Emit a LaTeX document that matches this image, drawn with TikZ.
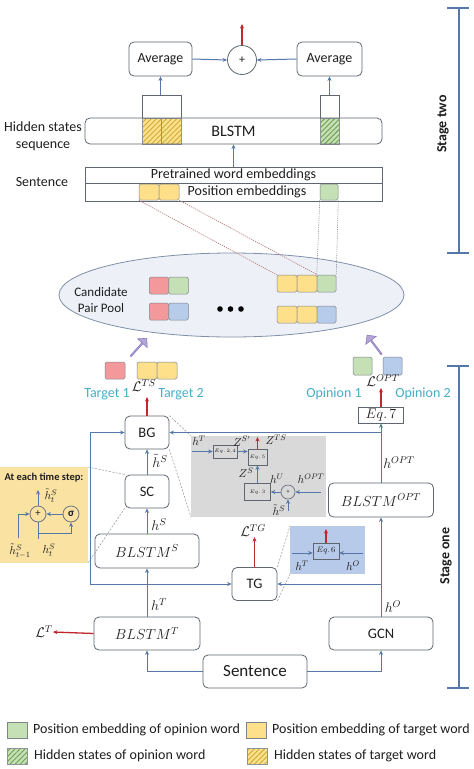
\RequirePackage{fix-cm}
\documentclass[tikz,border=0pt]{standalone}
\usepackage{fontspec}
\setmainfont{Carlito}
\usetikzlibrary{arrows.meta,shapes.geometric,shapes.arrows,patterns.meta,calc}
\definecolor{boxc}{HTML}{5F6670}
\definecolor{arrc}{HTML}{5578A8}
\definecolor{redc}{HTML}{C0282D}
\definecolor{cyanc}{HTML}{45AFC4}
\definecolor{yelc}{HTML}{FFE08A}
\definecolor{grnc}{HTML}{C5E0B4}
\definecolor{pinkc}{HTML}{F4999B}
\definecolor{bluec}{HTML}{B7CCEA}
\definecolor{purc}{HTML}{B4A7D6}
\definecolor{purd}{HTML}{8E7CC3}
\definecolor{poolc}{HTML}{EDF1F7}
\definecolor{poold}{HTML}{8090A8}
\definecolor{insety}{HTML}{FAE2A3}
\definecolor{insetg}{HTML}{D9D9D9}
\definecolor{insetb}{HTML}{B8CAE9}
\definecolor{hatchy}{HTML}{C8AE3C}
\definecolor{hatchg}{HTML}{6E9E52}
\definecolor{txt}{HTML}{1E1E1E}
\definecolor{dotr}{HTML}{B07070}
\begin{document}
\begin{tikzpicture}[x=1pt,y=-1pt,
  every node/.style={inner sep=0pt, text=txt},
  rbox/.style={draw=boxc, line width=0.8pt, rounded corners=5pt, fill=white},
  sbox/.style={draw=boxc, line width=0.7pt},
  conn/.style={draw=arrc, line width=1pt, -{Stealth[length=4.5pt,width=4pt]}},
  plain/.style={draw=arrc, line width=1pt},
  redarr/.style={draw=redc, line width=1.3pt, -{Stealth[length=4.5pt,width=4pt]}},
  cell/.style={draw=boxc!80, line width=0.5pt, rounded corners=1.5pt},
  f10/.style={font=\fontsize{10.5}{12}\selectfont},
  f12/.style={font=\fontsize{12}{14}\selectfont},
  f13/.style={font=\fontsize{13}{15.5}\selectfont},
  f14/.style={font=\fontsize{14}{17}\selectfont},
  f15/.style={font=\fontsize{14.5}{17}\selectfont},
  f16/.style={font=\fontsize{16}{18}\selectfont},
  f17/.style={font=\fontsize{17}{20}\selectfont},
  mbx/.style={font=\fontsize{14.5}{17}\selectfont},
  mth/.style={font=\fontsize{14}{16}\selectfont},
  msm/.style={font=\fontsize{11.5}{13}\selectfont},
  dashl/.style={draw=gray!75, line width=0.6pt, dash pattern=on 2pt off 1.5pt},
  reddot/.style={draw=dotr, line width=0.6pt, dash pattern=on 1.2pt off 1pt},
  graydot/.style={draw=gray!80, line width=0.6pt, dash pattern=on 1.2pt off 1pt},
  stageln/.style={draw=arrc, line width=1.1pt},
  cyl/.style={text=cyanc, font=\fontsize{14}{17}\selectfont},
  purarrow/.style={single arrow, draw=purd, fill=purc, line width=0.6pt, minimum height=24pt, minimum width=13pt, single arrow head extend=2.5pt, inner sep=0pt}
]
\fill[white] (0,0) rectangle (474,769);
\useasboundingbox (0,0) rectangle (474,769);

% ================= Stage two =================
\node[rbox, minimum width=63pt, minimum height=34pt, f14] (avgL) at (160.5,59) {Average};
\node[rbox, minimum width=65pt, minimum height=34pt, f14] (avgR) at (329.5,59) {Average};
\node[circle, draw=boxc, line width=0.8pt, minimum size=29pt, fill=white, f12] (plusT) at (242,60) {+};
\coordinate (outT) at (242,24);
\draw[redarr] (plusT.north) -- (outT);
\draw[conn] (avgL.east) -- (plusT.west);
\draw[conn] (avgR.west) -- (plusT.east);

% BLSTM bar with hatched cells
\fill[white, rounded corners=5pt] (85,118) rectangle (382,144);
\fill[yelc] (142,118) rectangle (181,144);
\fill[pattern={Lines[angle=45,distance=3.6pt,line width=0.9pt]}, pattern color=hatchy] (142,118) rectangle (181,144);
\fill[grnc] (320,118) rectangle (339,144);
\fill[pattern={Lines[angle=45,distance=3.6pt,line width=0.9pt]}, pattern color=hatchg] (320,118) rectangle (339,144);
\draw[boxc!70, line width=0.5pt] (142,118) rectangle (161.5,144) (161.5,118) rectangle (181,144) (320,118) rectangle (339,144);
\node[draw=boxc, line width=0.8pt, rounded corners=5pt, minimum width=297pt, minimum height=26pt, f16] (blstm) at (233.5,131) {BLSTM};

% brackets above the hidden states
\draw[boxc, line width=0.8pt] (142,118) -- (142,95) -- (181,95) -- (181,118);
\draw[boxc, line width=0.8pt] (320,118) -- (320,95) -- (339,95) -- (339,118);
\coordinate (brL) at (160.5,95);
\coordinate (brR) at (329.5,95);
\draw[conn] (brL) -- (avgL.south);
\draw[conn] (brR) -- (avgR.south);

\node[align=center, font=\fontsize{14}{17}\selectfont] (hss) at (43,136.5) {Hidden states\\sequence};
\node[f14] (sentlbl) at (42,182) {Sentence};

% sentence embeddings
\node[sbox, fill=white, minimum width=297pt, minimum height=16pt, f14] (pre) at (233.5,175) {Pretrained word embeddings};
\node[sbox, fill=white, minimum width=297pt, minimum height=18pt] (pos) at (233.5,192) {};
\node[cell, fill=yelc, minimum width=20pt, minimum height=16pt] (pc1) at (149,192) {};
\node[cell, fill=yelc, minimum width=20pt, minimum height=16pt] (pc2) at (169,192) {};
\node[cell, fill=grnc, minimum width=18pt, minimum height=16pt] (pg) at (329,192) {};
\node[f14] (postxt) at (247,192) {Position embeddings};
\draw[conn] (pre.north) -- (pre.north |- blstm.south);

% candidate pool
\node[ellipse, draw=poold, fill=poolc, line width=0.8pt, minimum width=345pt, minimum height=84pt] (pool) at (231.5,295) {};
\node[f13, align=center] (pooltxt) at (101,300) {Candidate\\Pair Pool};
\node[cell, fill=pinkc, minimum width=19.5pt, minimum height=17pt] (a1) at (159,285.5) {};
\node[cell, fill=grnc, minimum width=19.5pt, minimum height=17pt] (a2) at (178.5,285.5) {};
\node[cell, fill=pinkc, minimum width=19.5pt, minimum height=17pt] (b1) at (159,311.5) {};
\node[cell, fill=bluec, minimum width=19.5pt, minimum height=17pt] (b2) at (178.5,311.5) {};
\node[cell, fill=yelc, minimum width=20pt, minimum height=17pt] (q1) at (287,283.5) {};
\node[cell, fill=yelc, minimum width=20pt, minimum height=17pt] (q2) at (307,283.5) {};
\node[cell, fill=grnc, minimum width=19pt, minimum height=17pt] (q3) at (326.5,283.5) {};
\node[cell, fill=yelc, minimum width=20pt, minimum height=17pt] (r1) at (287,314.5) {};
\node[cell, fill=yelc, minimum width=20pt, minimum height=17pt] (r2) at (307,314.5) {};
\node[cell, fill=bluec, minimum width=19pt, minimum height=17pt] (r3) at (326.5,314.5) {};
\fill[black] (220,309) circle (2.8) (230.5,309) circle (2.8) (241,309) circle (2.8);
\draw[reddot] (pc1.south west) -- (q1.north west);
\draw[reddot] (pc2.south east) -- (q2.north east);
\draw[graydot] (pg.south west) -- (q3.north west);
\draw[graydot] (pg.south east) -- (q3.north east);

% extracted targets / opinions
\node[cell, fill=pinkc, minimum width=20pt, minimum height=17pt] (t1) at (115,370.5) {};
\node[cell, fill=yelc, minimum width=20pt, minimum height=17pt] (t2a) at (147,370.5) {};
\node[cell, fill=yelc, minimum width=20pt, minimum height=17pt] (t2b) at (167,370.5) {};
\node[cell, fill=grnc, minimum width=19pt, minimum height=18pt] (o1) at (362.5,366) {};
\node[cell, fill=bluec, minimum width=19pt, minimum height=18pt] (o2) at (392.5,366) {};
\node[purarrow, rotate=48] (parL) at (138.5,347.5) {};
\node[purarrow, rotate=127] (parR) at (374.5,345) {};
\node[cyl] (tg1) at (107,394) {Target 1};
\node[cyl] (tg2) at (181,394) {Target 2};
\node[cyl] (op1) at (334,394) {Opinion 1};
\node[cyl] (op2) at (423,394) {Opinion 2};
\node[mth] (LTS) at (144,386) {$\mathcal{L}^{TS}$};
\node[mth] (LOPT) at (383,381) {$\mathcal{L}^{OPT}$};

% stage brackets
\draw[stageln] (447,8) -- (469,8) (459,8) -- (459,253) (447,253) -- (469,253);
\node[rotate=90, font=\bfseries\fontsize{14}{17}\selectfont] (st2) at (443,124) {Stage two};
\draw[stageln] (447,366) -- (469,366) (459,366) -- (459,688) (447,688) -- (469,688);
\node[rotate=90, font=\bfseries\fontsize{14}{17}\selectfont] (st1) at (446,556) {Stage one};

% ================= Stage one =================
% inset backgrounds
\fill[insety] (0,467) rectangle (88,563);
\coordinate (ybNE) at (88,467);
\coordinate (ybSE) at (88,563);
\fill[insetg] (191,436) rectangle (326,517);
\coordinate (gbNW) at (191,436);
\coordinate (gbSW) at (191,517);
\fill[insetb] (290,526) rectangle (365,574);
\coordinate (bbNW) at (290,526);
\coordinate (bbSW) at (290,574);

\node[rbox, minimum width=44pt, minimum height=33pt, f15] (BG) at (147,432.5) {BG};
\node[rbox, minimum width=44pt, minimum height=33pt, f15] (SC) at (147,491.5) {SC};
\node[rbox, minimum width=104pt, minimum height=34pt, mbx] (BS) at (147,551) {$BLSTM^{S}$};
\node[rbox, minimum width=106pt, minimum height=33pt, mbx] (BT) at (147,633.5) {$BLSTM^{T}$};
\node[rbox, minimum width=104pt, minimum height=33pt, f15] (GCN) at (381,633.5) {GCN};
\node[rbox, minimum width=104pt, minimum height=33pt, f17] (SEN) at (255,671.5) {Sentence};
\node[rbox, minimum width=45pt, minimum height=33pt, f15] (TG) at (254.5,584) {TG};
\node[rbox, minimum width=105pt, minimum height=34pt, mbx] (BO) at (381,500) {$BLSTM^{OPT}$};
\node[sbox, fill=white, minimum width=45pt, minimum height=16pt, mth] (EQ7) at (381,415) {$Eq.\,7$};

\draw[dashl] (SC.north west) -- (ybNE);
\draw[dashl] (SC.south west) -- (ybSE);
\draw[dashl] (BG.north east) -- (gbNW);
\draw[dashl] (BG.south east) -- (gbSW);
\draw[dashl] (TG.north east) -- (bbNW);
\draw[dashl] (TG.south east) -- (bbSW);

\draw[conn] (SEN.west) -| (BT.south);
\draw[conn] (SEN.east) -| (GCN.south);
\draw[conn] (BT.north) -- (BS.south);
\draw[conn] (BS.north) -- (SC.south);
\draw[conn] (SC.north) -- (BG.south);
\coordinate (jT) at (BT.north |- TG.west);
\coordinate (loopL) at (90,584);
\draw[conn] (jT) -- (TG.west);
\draw[conn] (jT) -- (loopL) |- (BG.west);
\draw[conn] (GCN.north) -- (BO.south);
\coordinate (jO) at (GCN.north |- TG.east);
\draw[conn] (jO) -- (TG.east);
\draw[conn] (BO.north) -- (EQ7.south);
\coordinate (jP) at (EQ7.south |- BG.east);
\draw[conn] (jP) -- (BG.east);
\coordinate (bgout) at (147,397);
\draw[redarr] (BG.north) -- (bgout);
\coordinate (eq7out) at (381,388);
\draw[redarr] (EQ7.north) -- (eq7out);
\node[mth] (LT) at (44,632) {$\mathcal{L}^{T}$};
\draw[redarr] (BT.west) -- (LT.east);
\node[mth] (LTG) at (253,531) {$\mathcal{L}^{TG}$};
\draw[redarr] (TG.north) -- (TG.north |- LTG.south);

\node[mth] at (159,605) {$h^{T}$};
\node[mth] at (159,525) {$h^{S}$};
\node[mth] at (160,461) {$\tilde{h}^{S}$};
\node[mth] at (393,607) {$h^{O}$};
\node[mth] at (399,463) {$h^{OPT}$};

% yellow inset
\node[font=\bfseries\fontsize{10.5}{12}\selectfont] (ats) at (44,478) {At each time step:};
\node[circle, draw=boxc!90, line width=0.8pt, minimum size=16pt, f10] (plusI) at (38,514) {+};
\node[circle, draw=boxc!90, line width=0.8pt, minimum size=16pt, font=\bfseries\fontsize{11}{12}\selectfont] (sig) at (71,514) {σ};
\draw[conn] (sig.west) -- (plusI.east);
\coordinate (outI) at (38,490);
\draw[conn] (plusI.north) -- (outI);
\node[msm] at (51,496) {$\tilde{h}^{S}_{t}$};
\coordinate (inL) at (18,538);
\draw[conn] (inL) |- (plusI.west);
\node[msm] at (20,551) {$\tilde{h}^{S}_{t-1}$};
\coordinate (inH) at (38,539);
\draw[plain] (inH) -- (plusI.south);
\coordinate (jI) at (38,533);
\draw[conn] (jI) -| (sig.south);
\node[msm] at (49,550) {$h^{S}_{t}$};

% gray inset
\node[draw=boxc, line width=0.6pt, minimum width=24pt, minimum height=13pt, font=\fontsize{5}{6}\selectfont] (e24) at (225,451.5) {$Eq.\,2{,}4$};
\node[draw=boxc, line width=0.6pt, minimum width=19pt, minimum height=16pt, font=\fontsize{5}{6}\selectfont] (e5) at (257.5,457) {$Eq.\,5$};
\node[draw=boxc, line width=0.6pt, minimum width=26pt, minimum height=17pt, font=\fontsize{5}{6}\selectfont] (e3) at (257.5,492) {$Eq.\,3$};
\node[circle, draw=boxc, line width=0.6pt, minimum size=14pt, font=\fontsize{6}{7}\selectfont] (plusG) at (288,492) {+};
\coordinate (hTin) at (192,451.5);
\draw[conn] (hTin) -- (e24.west);
\node[msm] at (199,441) {$h^{T}$};
\draw[conn] (e24.east) -- (e24.east -| e5.west);
\node[msm] at (242,441) {$Z^{S'}$};
\coordinate (zts) at (257.5,437);
\draw[redarr] (e5.north) -- (zts);
\node[msm] at (276,440) {$Z^{TS}$};
\draw[conn] (e3.north) -- (e5.south);
\node[msm] at (246,473) {$Z^{S}$};
\draw[conn] (plusG.west) -- (e3.east);
\node[msm] at (277,479) {$h^{U}$};
\coordinate (hoptin) at (321,492);
\draw[conn] (hoptin) -- (plusG.east);
\node[msm] at (311,479) {$h^{OPT}$};
\coordinate (hsin) at (288,511);
\draw[conn] (hsin) -- (plusG.south);
\node[msm] at (279,510) {$\tilde{h}^{S}$};

% blue inset
\node[draw=boxc, line width=0.6pt, minimum width=26pt, minimum height=16pt, font=\fontsize{8}{9}\selectfont] (e6) at (326,551) {$Eq.\,6$};
\coordinate (e6out) at (326,529);
\draw[redarr] (e6.north) -- (e6out);
\coordinate (e6l) at (292,553);
\coordinate (e6r) at (363,553);
\draw[conn] (e6l) -- (e6l -| e6.west);
\draw[conn] (e6r) -- (e6r -| e6.east);
\node[msm] at (302,566) {$h^{T}$};
\node[msm] at (353,566) {$h^{O}$};

% ================= Legend =================
\node[cell, fill=grnc, rounded corners=0pt, minimum width=20pt, minimum height=16pt] (lg1) at (17,730) {};
\node[f14, anchor=west] at (33,730) {Position embedding of opinion word};
\node[cell, fill=yelc, rounded corners=0pt, minimum width=20pt, minimum height=16pt] (lg2) at (256,730) {};
\node[f14, anchor=west] at (272,730) {Position embedding of target word};
\fill[grnc] (7,748) rectangle (27,764);
\fill[pattern={Lines[angle=45,distance=3.6pt,line width=0.9pt]}, pattern color=hatchg] (7,748) rectangle (27,764);
\draw[boxc!70, line width=0.5pt] (7,748) rectangle (27,764);
\node[f14, anchor=west] at (34,756) {Hidden states of opinion word};
\fill[yelc] (247,748) rectangle (267,764);
\fill[pattern={Lines[angle=45,distance=3.6pt,line width=0.9pt]}, pattern color=hatchy] (247,748) rectangle (267,764);
\draw[boxc!70, line width=0.5pt] (247,748) rectangle (267,764);
\node[f14, anchor=west] at (274,756) {Hidden states of target word};
\end{tikzpicture}
\end{document}
